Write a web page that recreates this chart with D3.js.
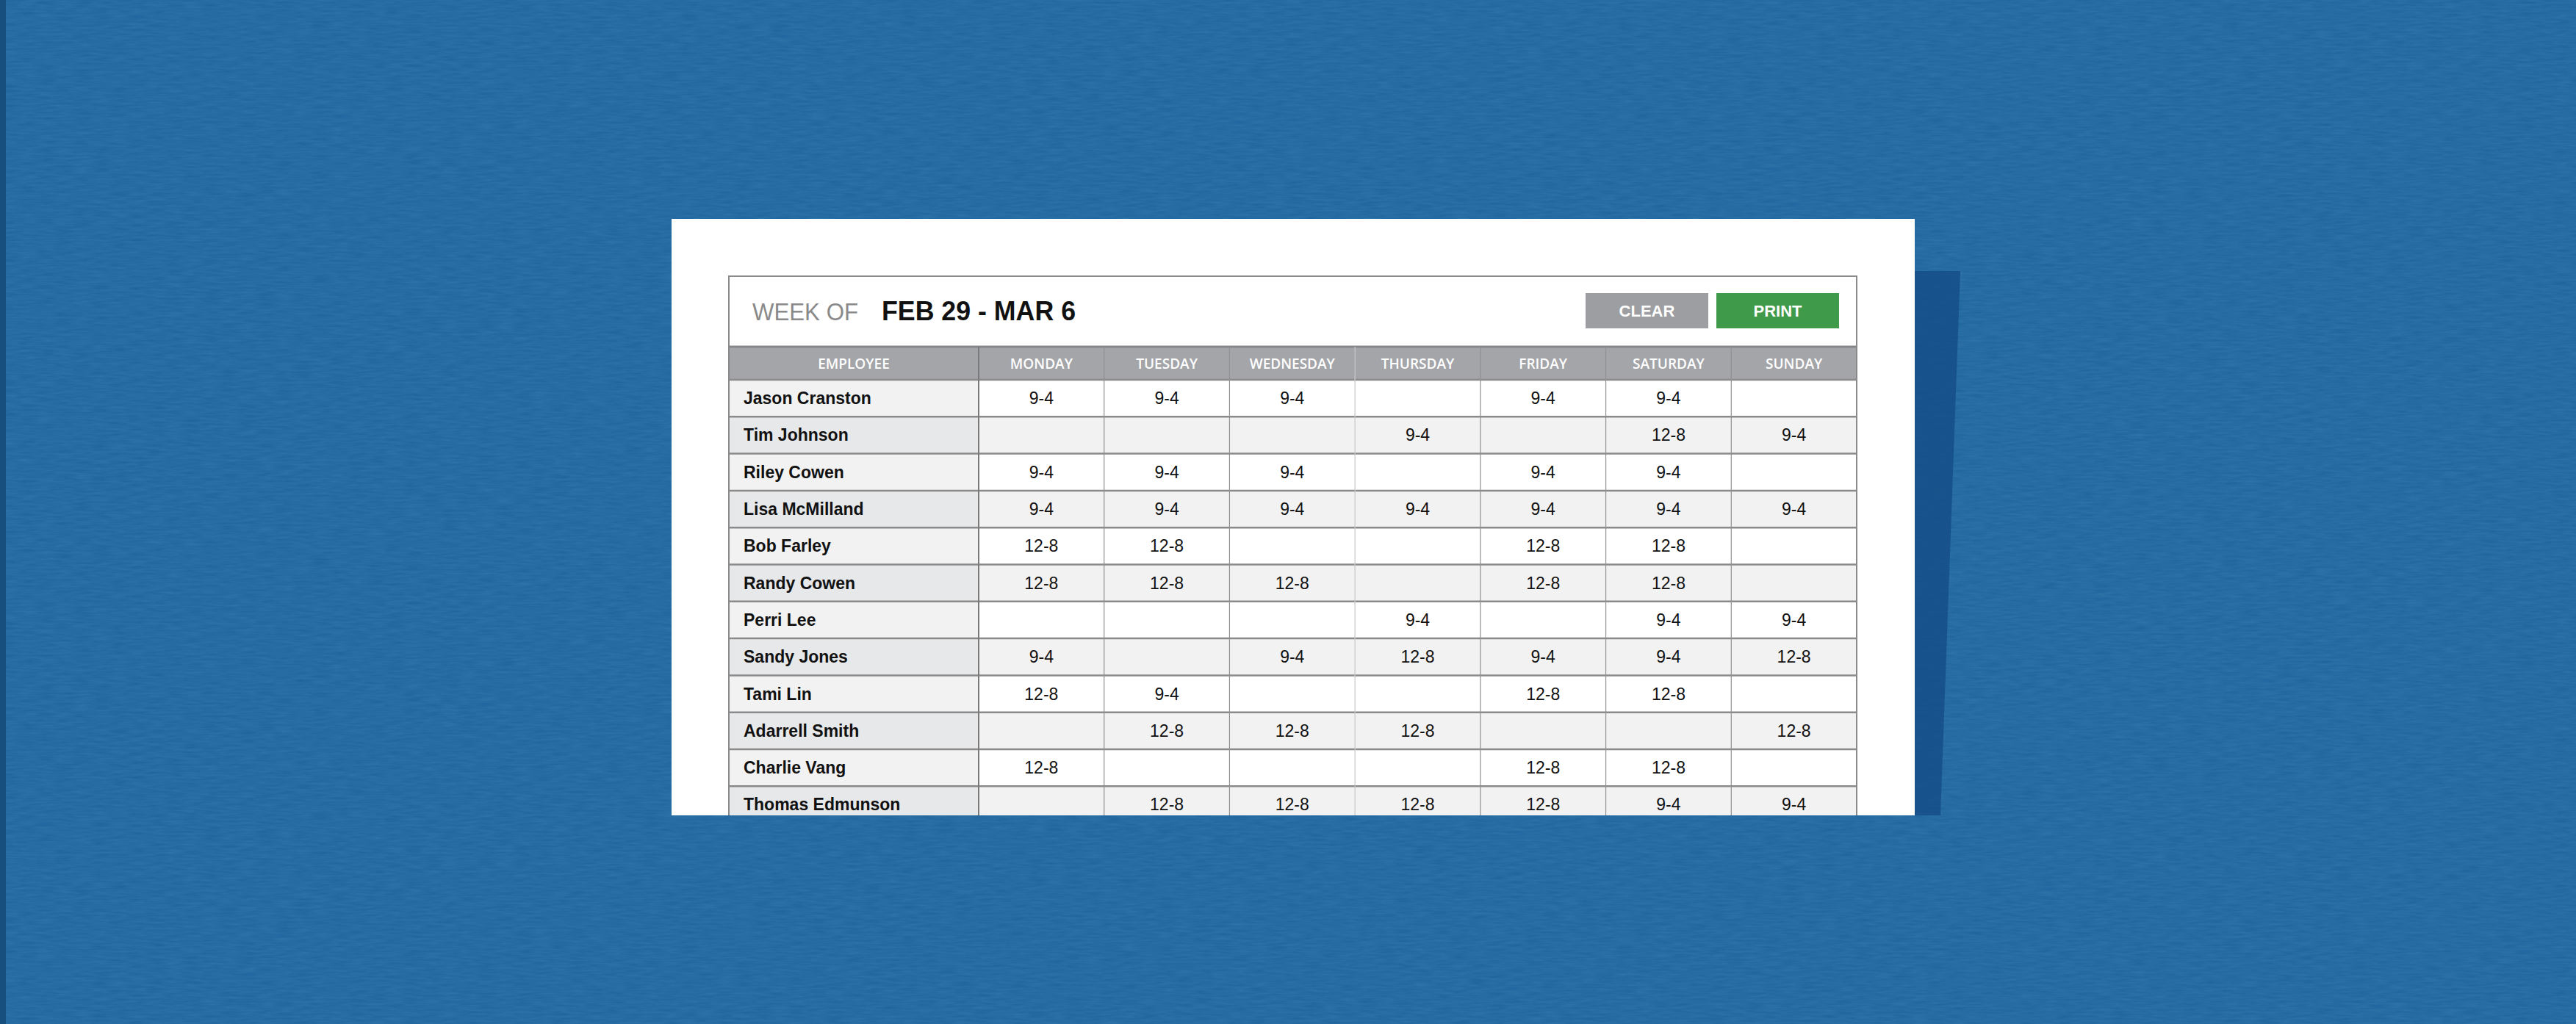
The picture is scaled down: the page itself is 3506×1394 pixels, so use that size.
<!DOCTYPE html>
<html><head><meta charset="utf-8">
<script src="https://cdn.jsdelivr.net/npm/d3@7"></script>
<style>body{margin:0;overflow:hidden;background:#21659e}</style>
</head><body>
<script>
const days = ["MONDAY","TUESDAY","WEDNESDAY","THURSDAY","FRIDAY","SATURDAY","SUNDAY"];
const employees = ["Jason Cranston","Tim Johnson","Riley Cowen","Lisa McMilland","Bob Farley","Randy Cowen","Perri Lee","Sandy Jones","Tami Lin","Adarrell Smith","Charlie Vang","Thomas Edmunson"];
const shifts = [
 ["9-4","9-4","9-4","","9-4","9-4",""],
 ["","","","9-4","","12-8","9-4"],
 ["9-4","9-4","9-4","","9-4","9-4",""],
 ["9-4","9-4","9-4","9-4","9-4","9-4","9-4"],
 ["12-8","12-8","","","12-8","12-8",""],
 ["12-8","12-8","12-8","","12-8","12-8",""],
 ["","","","9-4","","9-4","9-4"],
 ["9-4","","9-4","12-8","9-4","9-4","12-8"],
 ["12-8","9-4","","","12-8","12-8",""],
 ["","12-8","12-8","12-8","","","12-8"],
 ["12-8","","","","12-8","12-8",""],
 ["","12-8","12-8","12-8","12-8","9-4","9-4"]
];
const W=3506,H=1394;
const svg=d3.select("body").append("svg").attr("width",W).attr("height",H);
const defs=svg.append("defs");
const pat=defs.append("filter").attr("id","tex");
pat.append("feTurbulence").attr("type","fractalNoise").attr("baseFrequency","0.04 0.35").attr("numOctaves",3).attr("result","n");
pat.append("feColorMatrix").attr("in","n").attr("type","matrix").attr("values","0 0 0 0 0.08  0 0 0 0 0.33  0 0 0 0 0.56  0 0 0 0.6 0");
svg.append("rect").attr("width",W).attr("height",H).attr("fill","#1f639c");
svg.append("rect").attr("width",W).attr("height",H).attr("filter","url(#tex)").attr("opacity",0.55);
svg.append("rect").attr("width",8).attr("height",H).attr("fill","#17507f");
svg.append("path").attr("d","M2606,369 L2668,369 L2641,1110 L2606,1110 Z").attr("fill","#17508a").attr("opacity",0.9);
svg.append("rect").attr("x",914).attr("y",298).attr("width",1692).attr("height",812).attr("fill","#fff");
defs.append("clipPath").attr("id","pc").append("rect").attr("x",914).attr("y",298).attr("width",1692).attr("height",812);
const g=svg.append("g").attr("clip-path","url(#pc)");
const tx0=992, tx1=2527, nameW=340;
const x=d3.scaleBand().domain(days).range([tx0+nameW,tx1]);
const y=d3.scaleBand().domain(employees).range([517,517+50.3*employees.length]);
g.append("rect").attr("x",tx0).attr("y",376).attr("width",tx1-tx0).attr("height",900).attr("fill","#fff").attr("stroke","#8a8a8a").attr("stroke-width",2);
g.append("text").attr("x",1024).attr("y",436).text("WEEK OF").attr("font-family","Liberation Sans, Arial").attr("font-size",33).attr("fill","#8a8a8a").attr("textLength",144).attr("lengthAdjust","spacingAndGlyphs");
g.append("text").attr("x",1200).attr("y",436).text("FEB 29 - MAR 6").attr("font-family","Liberation Sans, Arial").attr("font-weight","bold").attr("font-size",37).attr("fill","#111").attr("textLength",264).attr("lengthAdjust","spacingAndGlyphs");
const btns=[{t:"CLEAR",x:2158,c:"#9d9ea2"},{t:"PRINT",x:2336,c:"#3f9a4a"}];
btns.forEach(b=>{
 g.append("rect").attr("x",b.x).attr("y",399).attr("width",167).attr("height",48).attr("fill",b.c);
 g.append("text").attr("x",b.x+83.5).attr("y",431).attr("text-anchor","middle").text(b.t).attr("font-family","Liberation Sans, Arial").attr("font-weight","bold").attr("font-size",22).attr("fill","#fff");
});
g.append("rect").attr("x",tx0).attr("y",472).attr("width",tx1-tx0).attr("height",45).attr("fill","#a4a5a9");
g.append("line").attr("x1",tx0).attr("x2",tx1).attr("y1",472).attr("y2",472).attr("stroke","#86878b").attr("stroke-width",3);
const hf="Open Sans, Noto Sans";
g.append("text").attr("x",tx0+nameW/2).attr("y",502).attr("text-anchor","middle").text("EMPLOYEE").attr("font-family",hf).attr("font-weight",600).attr("font-size",19).attr("fill","#fff");
days.forEach(d=>g.append("text").attr("x",x(d)+x.bandwidth()/2).attr("y",502).attr("text-anchor","middle").text(d).attr("font-family",hf).attr("font-weight",600).attr("font-size",19).attr("fill","#fff"));
employees.forEach((e,i)=>{
 const yy=y(e), h=y.bandwidth();
 g.append("rect").attr("x",tx0).attr("y",yy).attr("width",nameW).attr("height",h).attr("fill",i%2?"#e7e8ea":"#f2f2f2");
 g.append("rect").attr("x",tx0+nameW).attr("y",yy).attr("width",tx1-tx0-nameW).attr("height",h).attr("fill",i%2?"#f2f2f2":"#fff");
 g.append("text").attr("x",1012).attr("y",yy+h/2+8).text(e).attr("font-family","Liberation Sans, Arial").attr("font-weight","bold").attr("font-size",23).attr("fill","#111");
 days.forEach((d,j)=>{ if(shifts[i][j]) g.append("text").attr("x",x(d)+x.bandwidth()/2).attr("y",yy+h/2+8).attr("text-anchor","middle").text(shifts[i][j]).attr("font-family","Liberation Sans, Arial").attr("font-size",23).attr("fill","#111");});
});
employees.forEach(e=>g.append("line").attr("x1",tx0).attr("x2",tx1).attr("y1",y(e)).attr("y2",y(e)).attr("stroke","#8a8a8a").attr("stroke-width",2.5));
days.forEach((d,j)=>g.append("line").attr("x1",x(d)).attr("x2",x(d)).attr("y1",472).attr("y2",1200).attr("stroke",j==0?"#7a7a7a":(j==3?"#c8c8c8":"#909090")).attr("stroke-width",j==0?2:1.2));
g.append("rect").attr("x",tx0).attr("y",376).attr("width",tx1-tx0).attr("height",900).attr("fill","none").attr("stroke","#8a8a8a").attr("stroke-width",2);
</script>
</body></html>
